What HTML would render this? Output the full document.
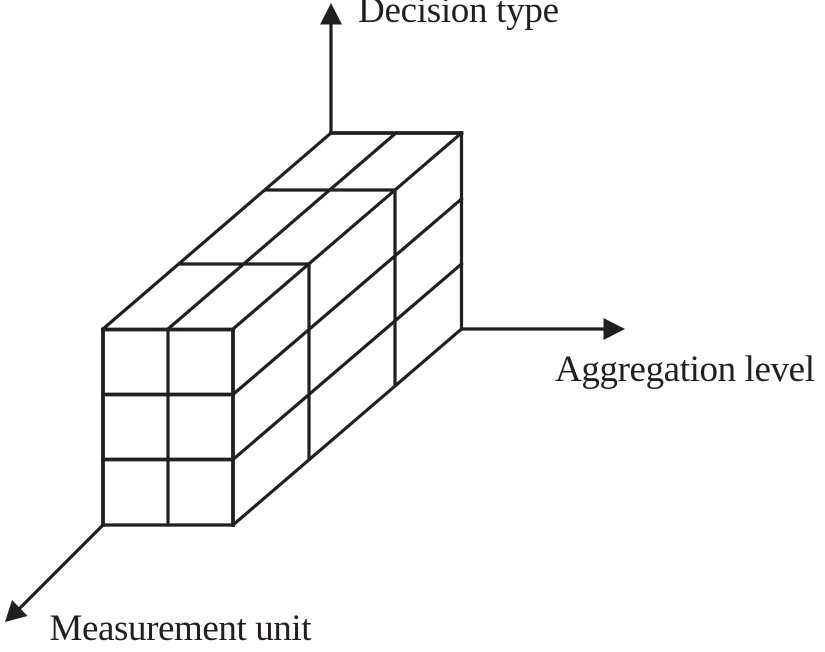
<!DOCTYPE html>
<html>
<head>
<meta charset="utf-8">
<style>
html,body{margin:0;padding:0;background:#fff;width:825px;height:652px;overflow:hidden}
svg{display:block}
text{font-family:"Liberation Serif",serif;font-size:37px;fill:#231f20}
</style>
</head>
<body>
<svg width="825" height="652" viewBox="0 0 825 652" xmlns="http://www.w3.org/2000/svg">
<g stroke="#231f20" fill="none" stroke-linecap="square">
  <!-- axes -->
  <g stroke-width="3.2" stroke-linecap="butt">
    <line x1="331" y1="133" x2="331" y2="22"/>
    <line x1="461.5" y1="329" x2="606" y2="329"/>
    <line x1="103" y1="525" x2="18" y2="610"/>
  </g>
  <!-- diagonals -->
  <g stroke-width="3.2">
    <line x1="103" y1="329" x2="331" y2="133"/>
    <line x1="168" y1="329" x2="396" y2="133"/>
    <line x1="233" y1="329" x2="461.5" y2="133"/>
    <line x1="233" y1="394.500" x2="461.5" y2="199"/>
    <line x1="233" y1="459.500" x2="461.5" y2="264"/>
    <line x1="233" y1="525" x2="461.5" y2="329"/>
  </g>
  <!-- top and right face -->
  <g stroke-width="3.2">
    <line x1="331" y1="133" x2="461.5" y2="133" stroke-width="3.800"/>
    <line x1="266" y1="190" x2="395" y2="190"/>
    <line x1="180" y1="264" x2="309" y2="264"/>
    <line x1="461.5" y1="133" x2="461.5" y2="329"/>
    <line x1="395" y1="190" x2="395" y2="385"/>
    <line x1="309" y1="264" x2="309" y2="459"/>
  </g>
  <!-- front face -->
  <g stroke-width="3.800">
    <line x1="103" y1="329.500" x2="233" y2="329.500"/>
    <line x1="103" y1="394.500" x2="233" y2="394.500"/>
    <line x1="103" y1="459.500" x2="233" y2="459.500"/>
    <line x1="103" y1="525" x2="233" y2="525" stroke-width="3.2"/>
    <line x1="103" y1="329.500" x2="103" y2="525"/>
    <line x1="168" y1="329.500" x2="168" y2="525" stroke-width="3.2"/>
    <line x1="233" y1="329.500" x2="233" y2="525"/>
  </g>
</g>
<!-- arrowheads -->
<g fill="#231f20">
  <polygon points="331,3 342,24.500 320,24.500"/>
  <polygon points="625,329 603.500,318 603.500,340"/>
  <polygon points="5,622 12,600 27.500,616"/>
</g>
<!-- labels -->
<text x="358" y="22" textLength="201" lengthAdjust="spacing">Decision type</text>
<text x="555" y="381" textLength="260" lengthAdjust="spacing">Aggregation level</text>
<text x="49.500" y="640" textLength="262" lengthAdjust="spacing">Measurement unit</text>
</svg>
</body>
</html>
